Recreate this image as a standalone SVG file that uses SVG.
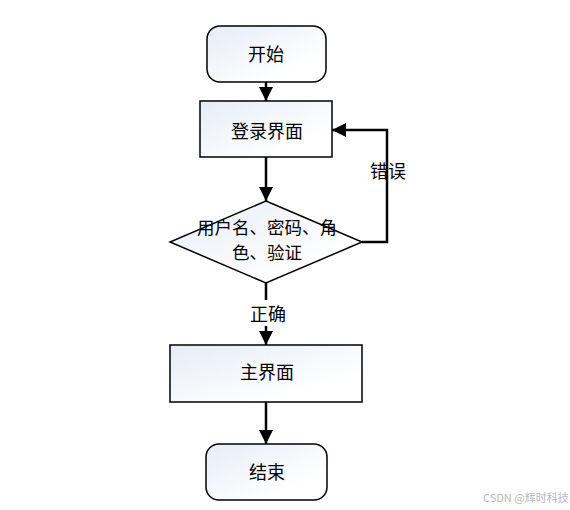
<svg xmlns="http://www.w3.org/2000/svg" width="570" height="510" viewBox="0 0 570 510">
<defs>
<linearGradient id="g" x1="0" y1="0" x2="1" y2="1">
<stop offset="0" stop-color="#e6ecf7"/>
<stop offset="0.75" stop-color="#ffffff"/>
</linearGradient>
<marker id="a" viewBox="0 0 14 14" refX="14" refY="7" markerWidth="14" markerHeight="14" markerUnits="userSpaceOnUse" orient="auto">
<path d="M0,0 L14,7 L0,14 Z" fill="#000"/>
</marker>
</defs>
<style>
.n{fill:url(#g);stroke:#000;stroke-width:1.5}
.t{font-family:"Noto Sans CJK SC","Liberation Sans",sans-serif;font-size:18px;fill:#000;text-anchor:middle}
.d{font-size:17.5px}
.c{fill:none;stroke:#000;stroke-width:2.5}
.w{font-family:"Noto Sans CJK SC","Liberation Sans",sans-serif;font-size:11px;fill:#b8b8b8}
</style>
<rect width="570" height="510" fill="#fff"/>
<g id="connectors">
<line class="c" x1="266" y1="82" x2="266" y2="101" marker-end="url(#a)"/>
<line class="c" x1="266" y1="157" x2="266" y2="201" marker-end="url(#a)"/>
<polyline class="c" points="362,242 387,242 387,130 332,130" marker-end="url(#a)"/>
<line class="c" x1="266" y1="283" x2="266" y2="300"/>
<line class="c" x1="266" y1="326" x2="266" y2="345" marker-end="url(#a)"/>
<line class="c" x1="266" y1="402" x2="266" y2="444" marker-end="url(#a)"/>
<text class="t" x="388" y="178">错误</text>
<text class="t" x="268" y="321">正确</text>
</g>
<g id="start">
<rect class="n" x="207" y="26" width="119" height="56" rx="13"/>
<text class="t" x="266" y="61">开始</text>
</g>
<g id="login">
<rect class="n" x="200" y="101" width="132" height="56"/>
<text class="t" x="267" y="138">登录界面</text>
</g>
<g id="check">
<polygon class="n" points="266,201 362,242 266,283 170,242"/>
<text class="t d" x="267" y="234">用户名、密码、角</text>
<text class="t d" x="267" y="259">色、验证</text>
</g>
<g id="main">
<rect class="n" x="170" y="345" width="192" height="57"/>
<text class="t" x="267" y="379">主界面</text>
</g>
<g id="end">
<rect class="n" x="206" y="444" width="121" height="56" rx="13"/>
<text class="t" x="267" y="479">结束</text>
</g>
<text class="w" x="483" y="502">CSDN @辉时科技</text>
</svg>
